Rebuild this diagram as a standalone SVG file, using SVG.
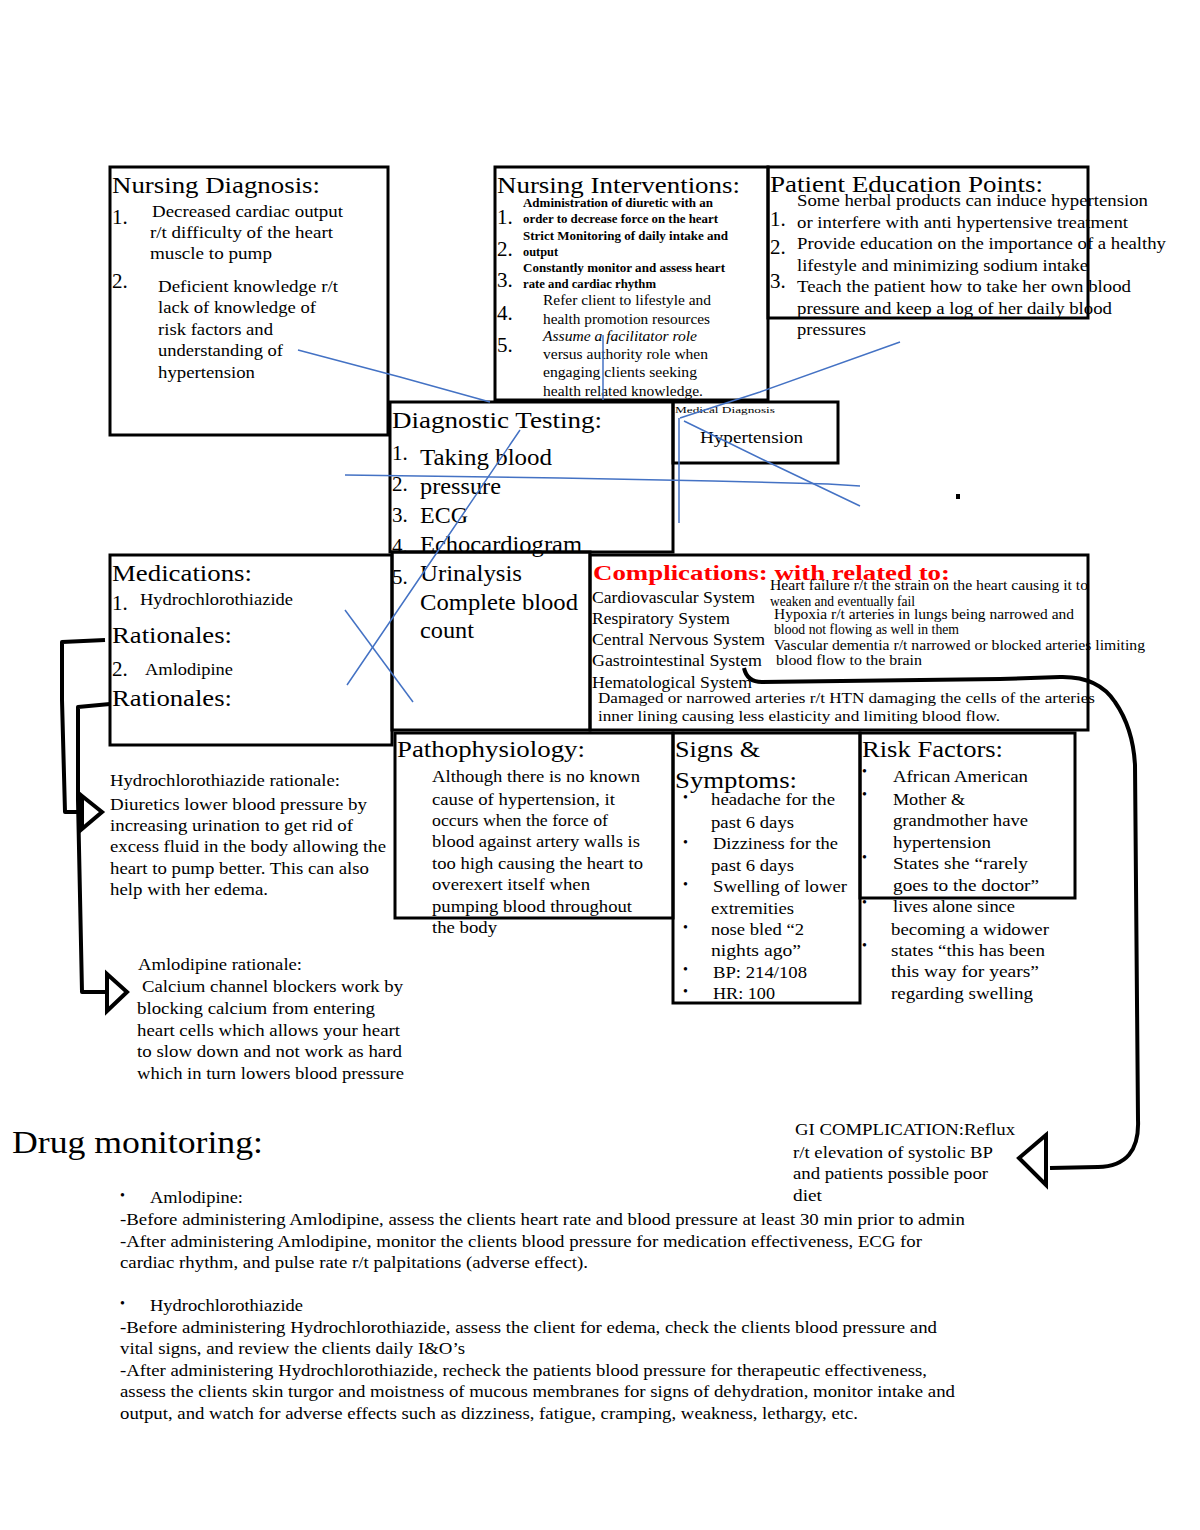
<svg xmlns="http://www.w3.org/2000/svg" width="1200" height="1530" viewBox="0 0 1200 1530">
<style>
text{font-family:"Liberation Serif","Times New Roman",serif;fill:#000}
.h{font-size:24px}
.b{font-size:17px}
.m{font-size:14px}
.s{font-size:11.5px;font-weight:bold}
.xs{font-size:9px}
.n{font-size:21px}
.red{fill:#ff0000;font-weight:bold;font-size:21px}
.box{fill:none;stroke:#000;stroke-width:3}
.blue{stroke:#4472C4;stroke-width:1.5;fill:none}
.conn{stroke:#000;stroke-width:4;fill:none;stroke-linejoin:round}
.head{stroke:#000;stroke-width:4;fill:#fff;stroke-linejoin:miter}
</style>
<rect width="1200" height="1530" fill="#fff"/>

<g id="nursing-diagnosis">
<rect class="box" x="110" y="167" width="278" height="268"/>
<text class="h" x="112" y="193" textLength="208" lengthAdjust="spacingAndGlyphs">Nursing Diagnosis:</text>
<text class="n" x="112" y="224">1.</text>
<text class="b" x="152" y="217" textLength="191" lengthAdjust="spacingAndGlyphs">Decreased cardiac output</text>
<text class="b" x="150" y="238" textLength="183" lengthAdjust="spacingAndGlyphs">r/t difficulty of the heart</text>
<text class="b" x="150" y="259" textLength="122" lengthAdjust="spacingAndGlyphs">muscle to pump</text>
<text class="n" x="112" y="288">2.</text>
<text class="b" x="158" y="292" textLength="180" lengthAdjust="spacingAndGlyphs">Deficient knowledge r/t</text>
<text class="b" x="158" y="313" textLength="158" lengthAdjust="spacingAndGlyphs">lack of knowledge of</text>
<text class="b" x="158" y="335" textLength="115" lengthAdjust="spacingAndGlyphs">risk factors and</text>
<text class="b" x="158" y="356" textLength="125" lengthAdjust="spacingAndGlyphs">understanding of</text>
<text class="b" x="158" y="378" textLength="97" lengthAdjust="spacingAndGlyphs">hypertension</text>
</g>

<g id="nursing-interventions">
<rect class="box" x="495" y="167" width="273" height="233"/>
<text class="h" x="497" y="193" textLength="243" lengthAdjust="spacingAndGlyphs">Nursing Interventions:</text>
<text class="n" x="497" y="224">1.</text>
<text class="n" x="497" y="256">2.</text>
<text class="n" x="497" y="287">3.</text>
<text class="n" x="497" y="320">4.</text>
<text class="n" x="497" y="352">5.</text>
<text class="s" x="523" y="207" textLength="190" lengthAdjust="spacingAndGlyphs">Administration of diuretic with an</text>
<text class="s" x="523" y="223" textLength="195" lengthAdjust="spacingAndGlyphs">order to decrease force on the heart</text>
<text class="s" x="523" y="240" textLength="205" lengthAdjust="spacingAndGlyphs">Strict Monitoring of daily intake and</text>
<text class="s" x="523" y="256" textLength="35" lengthAdjust="spacingAndGlyphs">output</text>
<text class="s" x="523" y="272" textLength="202" lengthAdjust="spacingAndGlyphs">Constantly monitor and assess heart</text>
<text class="s" x="523" y="288" textLength="133" lengthAdjust="spacingAndGlyphs">rate and cardiac rhythm</text>
<text class="m" x="543" y="305" textLength="168" lengthAdjust="spacingAndGlyphs">Refer client to lifestyle and</text>
<text class="m" x="543" y="324" textLength="167" lengthAdjust="spacingAndGlyphs">health promotion resources</text>
<text class="m" x="543" y="341" textLength="154" lengthAdjust="spacingAndGlyphs" font-style="italic">Assume a facilitator role</text>
<text class="m" x="543" y="359" textLength="165" lengthAdjust="spacingAndGlyphs">versus authority role when</text>
<text class="m" x="543" y="377" textLength="154" lengthAdjust="spacingAndGlyphs">engaging clients seeking</text>
<text class="m" x="543" y="396" textLength="160" lengthAdjust="spacingAndGlyphs">health related knowledge.</text>
</g>

<g id="patient-education">
<rect class="box" x="768" y="167" width="320" height="151"/>
<text class="h" x="770" y="192" textLength="273" lengthAdjust="spacingAndGlyphs">Patient Education Points:</text>
<text class="b" x="797" y="206" textLength="351" lengthAdjust="spacingAndGlyphs">Some herbal products can induce hypertension</text>
<text class="n" x="770" y="226">1.</text>
<text class="b" x="797" y="228" textLength="331" lengthAdjust="spacingAndGlyphs">or interfere with anti hypertensive treatment</text>
<text class="n" x="770" y="254">2.</text>
<text class="b" x="797" y="249" textLength="369" lengthAdjust="spacingAndGlyphs">Provide education on the importance of a healthy</text>
<text class="b" x="797" y="271" textLength="291" lengthAdjust="spacingAndGlyphs">lifestyle and minimizing sodium intake</text>
<text class="n" x="770" y="288">3.</text>
<text class="b" x="797" y="292" textLength="334" lengthAdjust="spacingAndGlyphs">Teach the patient how to take her own blood</text>
<text class="b" x="797" y="314" textLength="315" lengthAdjust="spacingAndGlyphs">pressure and keep a log of her daily blood</text>
<text class="b" x="797" y="335" textLength="69" lengthAdjust="spacingAndGlyphs">pressures</text>
</g>

<g id="diagnostic-testing">
<rect class="box" x="390" y="402" width="283" height="150"/>
<rect class="box" x="392" y="552" width="198" height="178"/>
<text class="h" x="392" y="428" textLength="210" lengthAdjust="spacingAndGlyphs">Diagnostic Testing:</text>
<text class="n" x="392" y="460">1.</text>
<text class="h" x="420" y="465" textLength="132" lengthAdjust="spacingAndGlyphs">Taking blood</text>
<text class="n" x="392" y="491">2.</text>
<text class="h" x="420" y="494" textLength="81" lengthAdjust="spacingAndGlyphs">pressure</text>
<text class="n" x="392" y="522">3.</text>
<text class="h" x="420" y="523" textLength="48" lengthAdjust="spacingAndGlyphs">ECG</text>
<text class="n" x="392" y="553">4.</text>
<text class="h" x="420" y="552" textLength="162" lengthAdjust="spacingAndGlyphs">Echocardiogram</text>
<text class="n" x="392" y="584">5.</text>
<text class="h" x="420" y="581" textLength="102" lengthAdjust="spacingAndGlyphs">Urinalysis</text>
<text class="h" x="420" y="610" textLength="158" lengthAdjust="spacingAndGlyphs">Complete blood</text>
<text class="h" x="420" y="638" textLength="54" lengthAdjust="spacingAndGlyphs">count</text>
</g>

<g id="medical-diagnosis">
<rect class="box" x="673" y="402" width="165" height="61"/>
<text class="xs" x="675" y="413" textLength="100" lengthAdjust="spacingAndGlyphs">Medical Diagnosis</text>
<text class="b" x="700" y="443" textLength="103" lengthAdjust="spacingAndGlyphs">Hypertension</text>
</g>

<g id="medications">
<rect class="box" x="110" y="555" width="282" height="190"/>
<text class="h" x="112" y="581" textLength="140" lengthAdjust="spacingAndGlyphs">Medications:</text>
<text class="n" x="112" y="610">1.</text>
<text class="b" x="140" y="605" textLength="153" lengthAdjust="spacingAndGlyphs">Hydrochlorothiazide</text>
<text class="h" x="112" y="643" textLength="120" lengthAdjust="spacingAndGlyphs">Rationales:</text>
<text class="n" x="112" y="676">2.</text>
<text class="b" x="145" y="675" textLength="88" lengthAdjust="spacingAndGlyphs">Amlodipine</text>
<text class="h" x="112" y="706" textLength="120" lengthAdjust="spacingAndGlyphs">Rationales:</text>
</g>

<g id="complications">
<rect class="box" x="590" y="555" width="498" height="175"/>
<text class="red" x="593" y="580" textLength="357" lengthAdjust="spacingAndGlyphs">Complications: with related to:</text>
<text class="b" x="592" y="603" textLength="163" lengthAdjust="spacingAndGlyphs">Cardiovascular System</text>
<text class="b" x="592" y="624" textLength="138" lengthAdjust="spacingAndGlyphs">Respiratory System</text>
<text class="b" x="592" y="645" textLength="173" lengthAdjust="spacingAndGlyphs">Central Nervous System</text>
<text class="b" x="592" y="666" textLength="170" lengthAdjust="spacingAndGlyphs">Gastrointestinal System</text>
<text class="b" x="592" y="688" textLength="160" lengthAdjust="spacingAndGlyphs">Hematological System</text>
<text class="m" x="770" y="590" textLength="318" lengthAdjust="spacingAndGlyphs">Heart failure r/t the strain on the heart causing it to</text>
<text class="m" x="770" y="606" textLength="145" lengthAdjust="spacingAndGlyphs">weaken and eventually fail</text>
<text class="m" x="774" y="619" textLength="300" lengthAdjust="spacingAndGlyphs">Hypoxia r/t arteries in lungs being narrowed and</text>
<text class="m" x="774" y="634" textLength="185" lengthAdjust="spacingAndGlyphs">blood not flowing as well in them</text>
<text class="m" x="774" y="650" textLength="371" lengthAdjust="spacingAndGlyphs">Vascular dementia r/t narrowed or blocked arteries limiting</text>
<text class="m" x="776" y="665" textLength="146" lengthAdjust="spacingAndGlyphs">blood flow to the brain</text>
<text class="m" x="598" y="703" textLength="497" lengthAdjust="spacingAndGlyphs">Damaged or narrowed arteries r/t HTN damaging the cells of the arteries</text>
<text class="m" x="598" y="721" textLength="402" lengthAdjust="spacingAndGlyphs">inner lining causing less elasticity and limiting blood flow.</text>
</g>

<g id="pathophysiology">
<rect class="box" x="395" y="733" width="278" height="185"/>
<text class="h" x="397" y="757" textLength="188" lengthAdjust="spacingAndGlyphs">Pathophysiology:</text>
<text class="b" x="432" y="782" textLength="208" lengthAdjust="spacingAndGlyphs">Although there is no known</text>
<text class="b" x="432" y="805" textLength="183" lengthAdjust="spacingAndGlyphs">cause of hypertension, it</text>
<text class="b" x="432" y="826" textLength="176" lengthAdjust="spacingAndGlyphs">occurs when the force of</text>
<text class="b" x="432" y="847" textLength="208" lengthAdjust="spacingAndGlyphs">blood against artery walls is</text>
<text class="b" x="432" y="869" textLength="211" lengthAdjust="spacingAndGlyphs">too high causing the heart to</text>
<text class="b" x="432" y="890" textLength="158" lengthAdjust="spacingAndGlyphs">overexert itself when</text>
<text class="b" x="432" y="912" textLength="200" lengthAdjust="spacingAndGlyphs">pumping blood throughout</text>
<text class="b" x="432" y="933" textLength="65" lengthAdjust="spacingAndGlyphs">the body</text>
</g>

<g id="signs-symptoms">
<rect class="box" x="673" y="733" width="187" height="270"/>
<text class="h" x="675" y="757" textLength="85" lengthAdjust="spacingAndGlyphs">Signs &amp;</text>
<text class="h" x="675" y="788" textLength="122" lengthAdjust="spacingAndGlyphs">Symptoms:</text>
<text class="m" x="683" y="802">•</text>
<text class="m" x="683" y="847">•</text>
<text class="m" x="683" y="889">•</text>
<text class="m" x="683" y="932">•</text>
<text class="m" x="683" y="974">•</text>
<text class="m" x="683" y="996">•</text>
<text class="b" x="711" y="805" textLength="124" lengthAdjust="spacingAndGlyphs">headache for the</text>
<text class="b" x="711" y="828" textLength="83" lengthAdjust="spacingAndGlyphs">past 6 days</text>
<text class="b" x="713" y="849" textLength="125" lengthAdjust="spacingAndGlyphs">Dizziness for the</text>
<text class="b" x="711" y="871" textLength="83" lengthAdjust="spacingAndGlyphs">past 6 days</text>
<text class="b" x="713" y="892" textLength="134" lengthAdjust="spacingAndGlyphs">Swelling of lower</text>
<text class="b" x="711" y="914" textLength="83" lengthAdjust="spacingAndGlyphs">extremities</text>
<text class="b" x="711" y="935" textLength="93" lengthAdjust="spacingAndGlyphs">nose bled “2</text>
<text class="b" x="711" y="956" textLength="90" lengthAdjust="spacingAndGlyphs">nights ago”</text>
<text class="b" x="713" y="978" textLength="94" lengthAdjust="spacingAndGlyphs">BP: 214/108</text>
<text class="b" x="713" y="999" textLength="62" lengthAdjust="spacingAndGlyphs">HR: 100</text>
</g>

<g id="risk-factors">
<rect class="box" x="860" y="733" width="215" height="165"/>
<text class="h" x="862" y="757" textLength="141" lengthAdjust="spacingAndGlyphs">Risk Factors:</text>
<text class="m" x="862" y="776">•</text>
<text class="m" x="862" y="799">•</text>
<text class="m" x="862" y="862">•</text>
<text class="m" x="862" y="907">•</text>
<text class="m" x="862" y="950">•</text>
<text class="b" x="893" y="782" textLength="135" lengthAdjust="spacingAndGlyphs">African American</text>
<text class="b" x="893" y="805" textLength="72" lengthAdjust="spacingAndGlyphs">Mother &amp;</text>
<text class="b" x="893" y="826" textLength="135" lengthAdjust="spacingAndGlyphs">grandmother have</text>
<text class="b" x="893" y="848" textLength="98" lengthAdjust="spacingAndGlyphs">hypertension</text>
<text class="b" x="893" y="869" textLength="135" lengthAdjust="spacingAndGlyphs">States she “rarely</text>
<text class="b" x="893" y="891" textLength="146" lengthAdjust="spacingAndGlyphs">goes to the doctor”</text>
<text class="b" x="893" y="912" textLength="122" lengthAdjust="spacingAndGlyphs">lives alone since</text>
<text class="b" x="891" y="935" textLength="158" lengthAdjust="spacingAndGlyphs">becoming a widower</text>
<text class="b" x="891" y="956" textLength="154" lengthAdjust="spacingAndGlyphs">states “this has been</text>
<text class="b" x="891" y="977" textLength="148" lengthAdjust="spacingAndGlyphs">this way for years”</text>
<text class="b" x="891" y="999" textLength="142" lengthAdjust="spacingAndGlyphs">regarding swelling</text>
</g>

<g id="hydrochlorothiazide-rationale">
<text class="b" x="110" y="786" textLength="230" lengthAdjust="spacingAndGlyphs">Hydrochlorothiazide rationale:</text>
<text class="b" x="110" y="810" textLength="257" lengthAdjust="spacingAndGlyphs">Diuretics lower blood pressure by</text>
<text class="b" x="110" y="831" textLength="243" lengthAdjust="spacingAndGlyphs">increasing urination to get rid of</text>
<text class="b" x="110" y="852" textLength="276" lengthAdjust="spacingAndGlyphs">excess fluid in the body allowing the</text>
<text class="b" x="110" y="874" textLength="259" lengthAdjust="spacingAndGlyphs">heart to pump better. This can also</text>
<text class="b" x="110" y="895" textLength="158" lengthAdjust="spacingAndGlyphs">help with her edema.</text>
</g>

<g id="amlodipine-rationale">
<text class="b" x="138" y="970" textLength="164" lengthAdjust="spacingAndGlyphs">Amlodipine rationale:</text>
<text class="b" x="142" y="992" textLength="261" lengthAdjust="spacingAndGlyphs">Calcium channel blockers work by</text>
<text class="b" x="137" y="1014" textLength="238" lengthAdjust="spacingAndGlyphs">blocking calcium from entering</text>
<text class="b" x="137" y="1036" textLength="263" lengthAdjust="spacingAndGlyphs">heart cells which allows your heart</text>
<text class="b" x="137" y="1057" textLength="265" lengthAdjust="spacingAndGlyphs">to slow down and not work as hard</text>
<text class="b" x="137" y="1079" textLength="267" lengthAdjust="spacingAndGlyphs">which in turn lowers blood pressure</text>
</g>

<g id="gi-complication">
<text class="b" x="795" y="1135" textLength="220" lengthAdjust="spacingAndGlyphs">GI COMPLICATION:Reflux</text>
<text class="b" x="793" y="1158" textLength="200" lengthAdjust="spacingAndGlyphs">r/t elevation of systolic BP</text>
<text class="b" x="793" y="1179" textLength="195" lengthAdjust="spacingAndGlyphs">and patients possible poor</text>
<text class="b" x="793" y="1201" textLength="29" lengthAdjust="spacingAndGlyphs">diet</text>
</g>

<g id="drug-monitoring">
<text x="12" y="1153" font-size="31" textLength="251" lengthAdjust="spacingAndGlyphs">Drug monitoring:</text>
<text class="m" x="120" y="1200">•</text>
<text class="b" x="150" y="1203" textLength="93" lengthAdjust="spacingAndGlyphs">Amlodipine:</text>
<text class="b" x="120" y="1225" textLength="845" lengthAdjust="spacingAndGlyphs">-Before administering Amlodipine, assess the clients heart rate and blood pressure at least 30 min prior to admin</text>
<text class="b" x="120" y="1247" textLength="802" lengthAdjust="spacingAndGlyphs">-After administering Amlodipine, monitor the clients blood pressure for medication effectiveness, ECG for</text>
<text class="b" x="120" y="1268" textLength="468" lengthAdjust="spacingAndGlyphs">cardiac rhythm, and pulse rate r/t palpitations (adverse effect).</text>
<text class="m" x="120" y="1308">•</text>
<text class="b" x="150" y="1311" textLength="153" lengthAdjust="spacingAndGlyphs">Hydrochlorothiazide</text>
<text class="b" x="120" y="1333" textLength="817" lengthAdjust="spacingAndGlyphs">-Before administering Hydrochlorothiazide, assess the client for edema, check the clients blood pressure and</text>
<text class="b" x="120" y="1354" textLength="345" lengthAdjust="spacingAndGlyphs">vital signs, and review the clients daily I&amp;O’s</text>
<text class="b" x="120" y="1376" textLength="807" lengthAdjust="spacingAndGlyphs">-After administering Hydrochlorothiazide, recheck the patients blood pressure for therapeutic effectiveness,</text>
<text class="b" x="120" y="1397" textLength="835" lengthAdjust="spacingAndGlyphs">assess the clients skin turgor and moistness of mucous membranes for signs of dehydration, monitor intake and</text>
<text class="b" x="120" y="1419" textLength="738" lengthAdjust="spacingAndGlyphs">output, and watch for adverse effects such as dizziness, fatigue, cramping, weakness, lethargy, etc.</text>
</g>

<g id="connectors">
<path class="conn" d="M105,640 L62,642 L62,700 L65,812 L80,812"/>
<polygon class="head" points="82,796 102,812 82,829"/>
<path class="conn" d="M110,704 L78,707 L78,800 L82,992 L105,992"/>
<polygon class="head" points="107,974 127,992 107,1011"/>
<path class="conn" d="M744,668 Q747,682 762,682 L1000,679 L1060,677 Q1098,676 1115,702 Q1133,728 1135,765 L1138,1120 Q1140,1166 1098,1167 L1050,1168"/>
<polygon class="head" points="1046,1135 1019,1158 1046,1185"/>
<rect x="956" y="494" width="4" height="5" fill="#000"/>
<path class="blue" d="M298,350 L400,377 L490,402"/>
<path class="blue" d="M603,335 L603,400"/>
<path class="blue" d="M900,342 L760,392 L680,418"/>
<path class="blue" d="M684,421 L770,463 L860,506"/>
<path class="blue" d="M679,418 L679,523"/>
<path class="blue" d="M345,475 L560,478 L713,481 L828,484 L860,486"/>
<path class="blue" d="M520,430 L440,548 L347,685"/>
<path class="blue" d="M345,610 L413,702"/>
</g>
</svg>
